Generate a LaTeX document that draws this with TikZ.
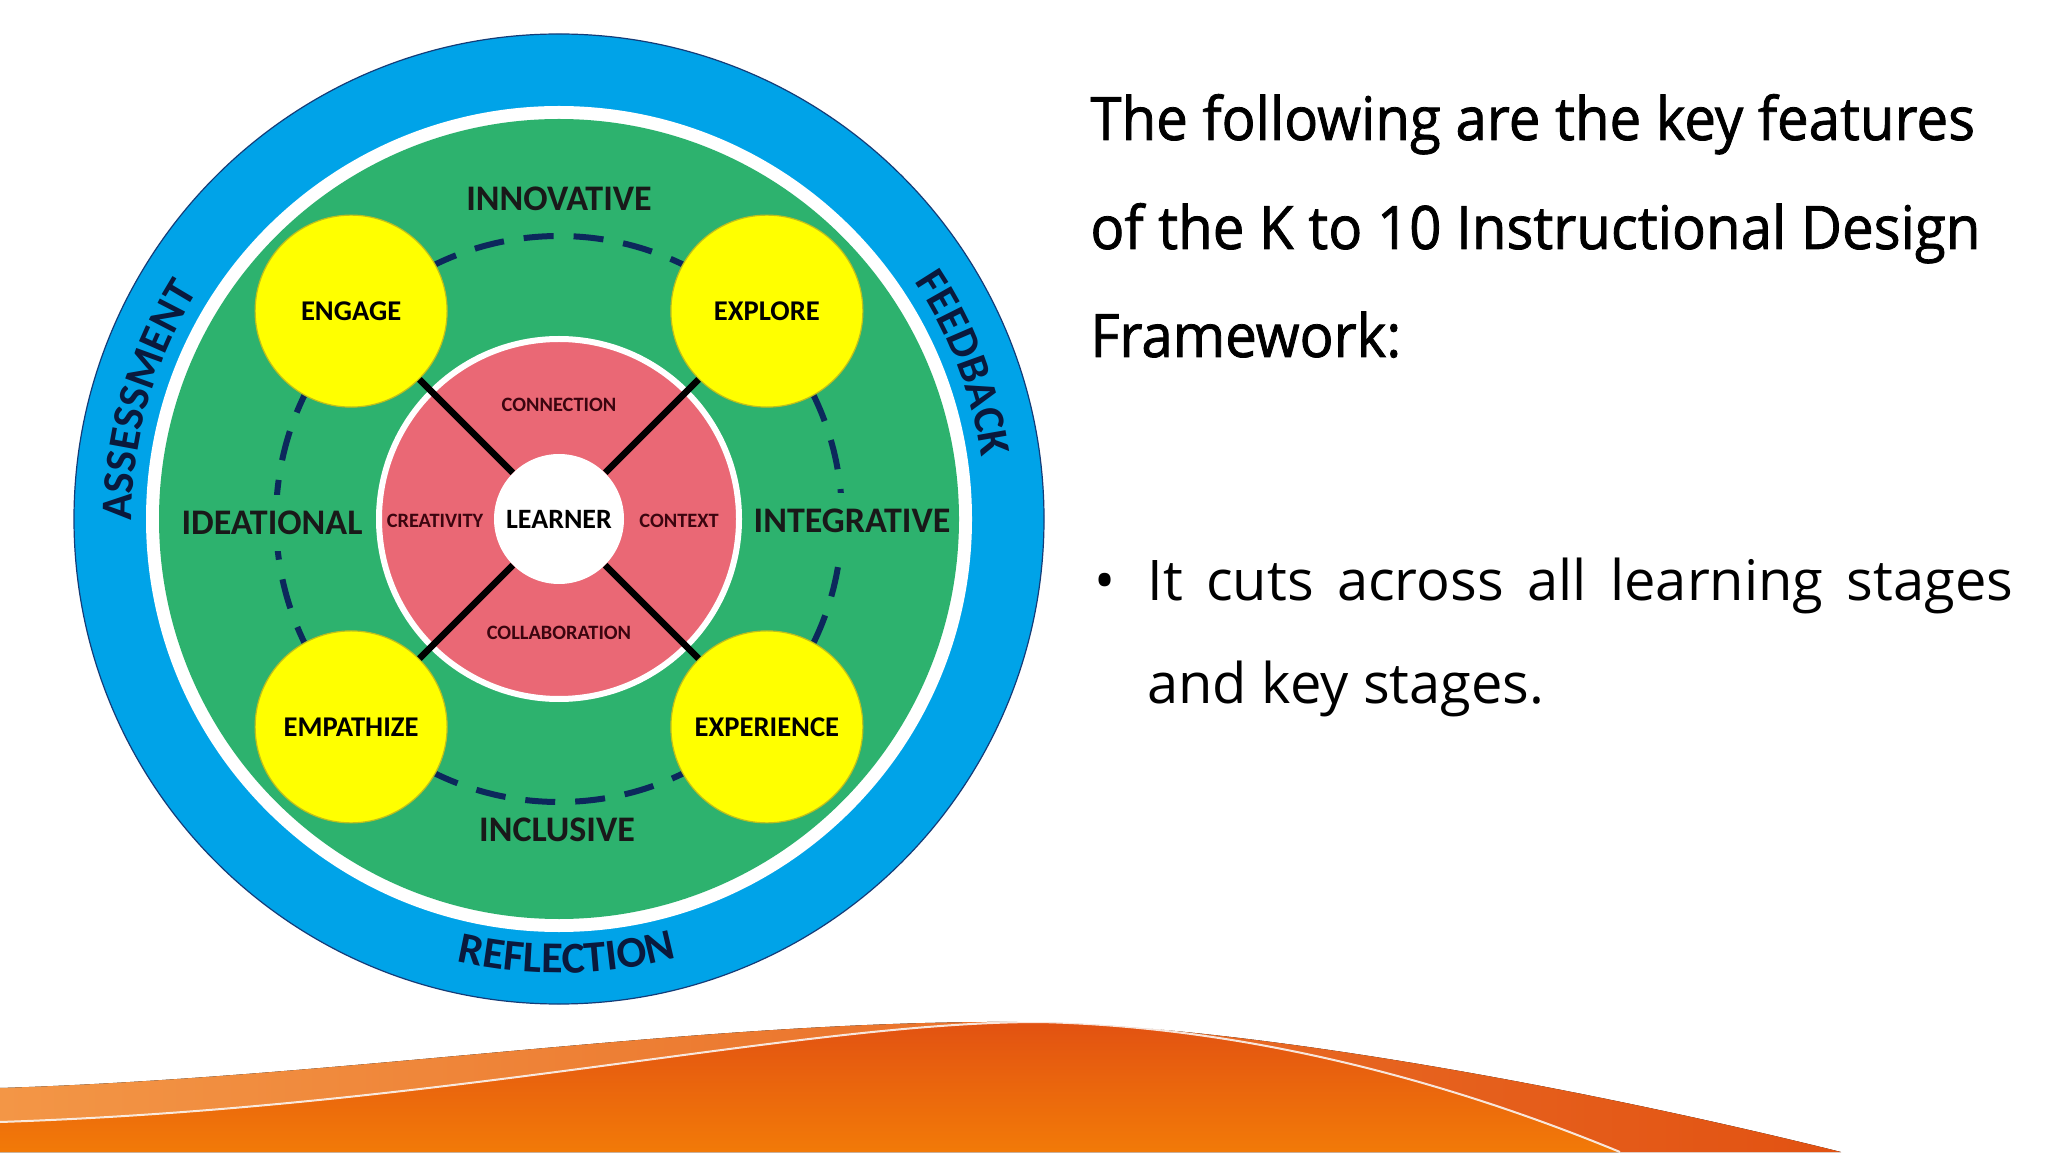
\documentclass[tikz,border=0pt]{standalone}
\usepackage{fontspec}
\usetikzlibrary{decorations.text}
\newfontfamily\diagfont{Carlito}
\newfontfamily\headfont{Open Sans}[FakeStretch=0.94,FakeBold=1.3]
\newfontfamily\bodyfont{Open Sans}
\definecolor{ringblue}{RGB}{0,163,232}
\definecolor{ringedge}{RGB}{20,60,120}
\definecolor{ringink}{RGB}{10,25,60}
\definecolor{fieldgreen}{RGB}{45,178,110}
\definecolor{orbitnavy}{RGB}{12,40,92}
\definecolor{sunyellow}{RGB}{255,255,0}
\definecolor{sunedge}{RGB}{190,190,30}
\definecolor{corepink}{RGB}{234,104,117}
\definecolor{coreink}{RGB}{60,5,15}
\definecolor{waveglow}{RGB}{243,150,70}
\definecolor{waveember}{RGB}{226,82,18}
\definecolor{waveflame}{RGB}{242,122,8}
\newcommand{\ringtext}[4]{%
  \path[decorate,decoration={text along path,text align=center,text color=ringink,
      text={|\diagfont\bfseries\fontsize{22}{22}\selectfont|#4}}]
    (hub) ++(#2:#1) arc[start angle=#2,end angle=#3,radius=#1];
}

\begin{document}
\begin{tikzpicture}[
      x=0.5pt, y=0.5pt,
      every node/.style={inner sep=0pt},
      phase/.style={circle,fill=sunyellow,draw=sunedge,line width=0.6pt,minimum size=96pt,
        font=\diagfont\bfseries\fontsize{14.3}{14.3}\selectfont},
      quality/.style={font=\diagfont\bfseries\fontsize{18}{18}\selectfont,text=black!90},
      gapped/.style={fill=fieldgreen,inner xsep=3pt,inner ysep=8pt},
      facet/.style={font=\diagfont\bfseries\fontsize{10.2}{10.2}\selectfont,text=coreink},
      core/.style={circle,fill=corepink,draw=white,line width=3pt,minimum size=180pt},
      spoke/.style={line width=3.2pt,black},
      orbit/.style={orbitnavy,line width=3pt,dash pattern=on 15pt off 10pt}
    ]
      \fill[white] (0,0) rectangle (2048,1152);
      \useasboundingbox (0,0) rectangle (2048,1152);
      % wave at the foot
      \fill[left color=waveglow,right color=waveember] (0,0) -- (0,64)
        .. controls (350,75) and (700,132) .. (1019,130)
        .. controls (1250,128) and (1600,60) .. (1841,0) -- cycle;
      \fill[top color=waveember,bottom color=waveflame] (0,0) -- (0,30)
        .. controls (450,45) and (800,130) .. (1040,130)
        .. controls (1250,125) and (1450,70) .. (1620,0) -- cycle;
      \draw[white,line width=1pt,opacity=0.85] (0,30)
        .. controls (450,45) and (800,130) .. (1040,130)
        .. controls (1250,125) and (1450,70) .. (1620,0);

      % rings
      \coordinate (hub) at (559,633);
      \filldraw[fill=ringblue,draw=ringedge,line width=0.6pt] (hub) circle[radius=485];
      \fill[white] (hub) circle[radius=413];
      \fill[fieldgreen] (hub) circle[radius=400];
      \draw[orbit] (hub) circle[radius=283];
      \ringtext{427}{200}{128}{ASSESSMENT}
      \ringtext{427}{60}{-18}{FEEDBACK}
      \ringtext{454}{235}{307}{REFLECTION}

      \node[core] (core) at (hub) {};
      \node[circle,fill=white,minimum size=65pt,
        font=\diagfont\bfseries\fontsize{14}{14}\selectfont] (learner) at (hub) {LEARNER};
      \node[facet] (connection) at ([shift={(0,114)}]hub) {CONNECTION};
      \node[facet] (collaboration) at ([shift={(0,-114)}]hub) {COLLABORATION};
      \node[facet] (creativity) at ([shift={(-124,-2)}]hub) {CREATIVITY};
      \node[facet] (context) at ([shift={(120,-2)}]hub) {CONTEXT};

      \node[phase] (engage) at ([shift={(135:294)}]hub) {ENGAGE};
      \node[phase] (explore) at ([shift={(45:294)}]hub) {EXPLORE};
      \node[phase] (empathize) at ([shift={(225:294)}]hub) {EMPATHIZE};
      \node[phase] (experience) at ([shift={(315:294)}]hub) {EXPERIENCE};
      \draw[spoke] (learner) -- (engage);
      \draw[spoke] (learner) -- (explore);
      \draw[spoke] (learner) -- (empathize);
      \draw[spoke] (learner) -- (experience);

      \node[quality] (innovative) at ([shift={(0,320)}]hub) {INNOVATIVE};
      \node[quality] (inclusive) at ([shift={(-2,-311)}]hub) {INCLUSIVE};
      \node[quality,gapped] (ideational) at ([shift={(-287,-4)}]hub) {IDEATIONAL};
      \node[quality,gapped] (integrative) at ([shift={(293,-2)}]hub) {INTEGRATIVE};

      % text on the right
      \node[anchor=base west,font=\headfont\fontsize{30}{30}\selectfont] (head1) at (1090,1012)
        {The following are the key features};
      \node[anchor=base west,font=\headfont\fontsize{30}{30}\selectfont] (head2) at (1090,903)
        {of the K to 10 Instructional Design};
      \node[anchor=base west,font=\headfont\fontsize{30}{30}\selectfont] (head3) at (1090,795)
        {Framework:};
      \node[anchor=base west,font=\bodyfont\fontsize{28}{28}\selectfont] (dot) at (1094,552) {•};
      \node[anchor=base west,font=\bodyfont\fontsize{28}{28}\selectfont] (point1) at (1147,552)
        {\makebox[433pt][s]{It cuts across all learning stages}};
      \node[anchor=base west,font=\bodyfont\fontsize{28}{28}\selectfont] (point2) at (1147,449)
        {and key stages.};
    \end{tikzpicture}
\end{document}
